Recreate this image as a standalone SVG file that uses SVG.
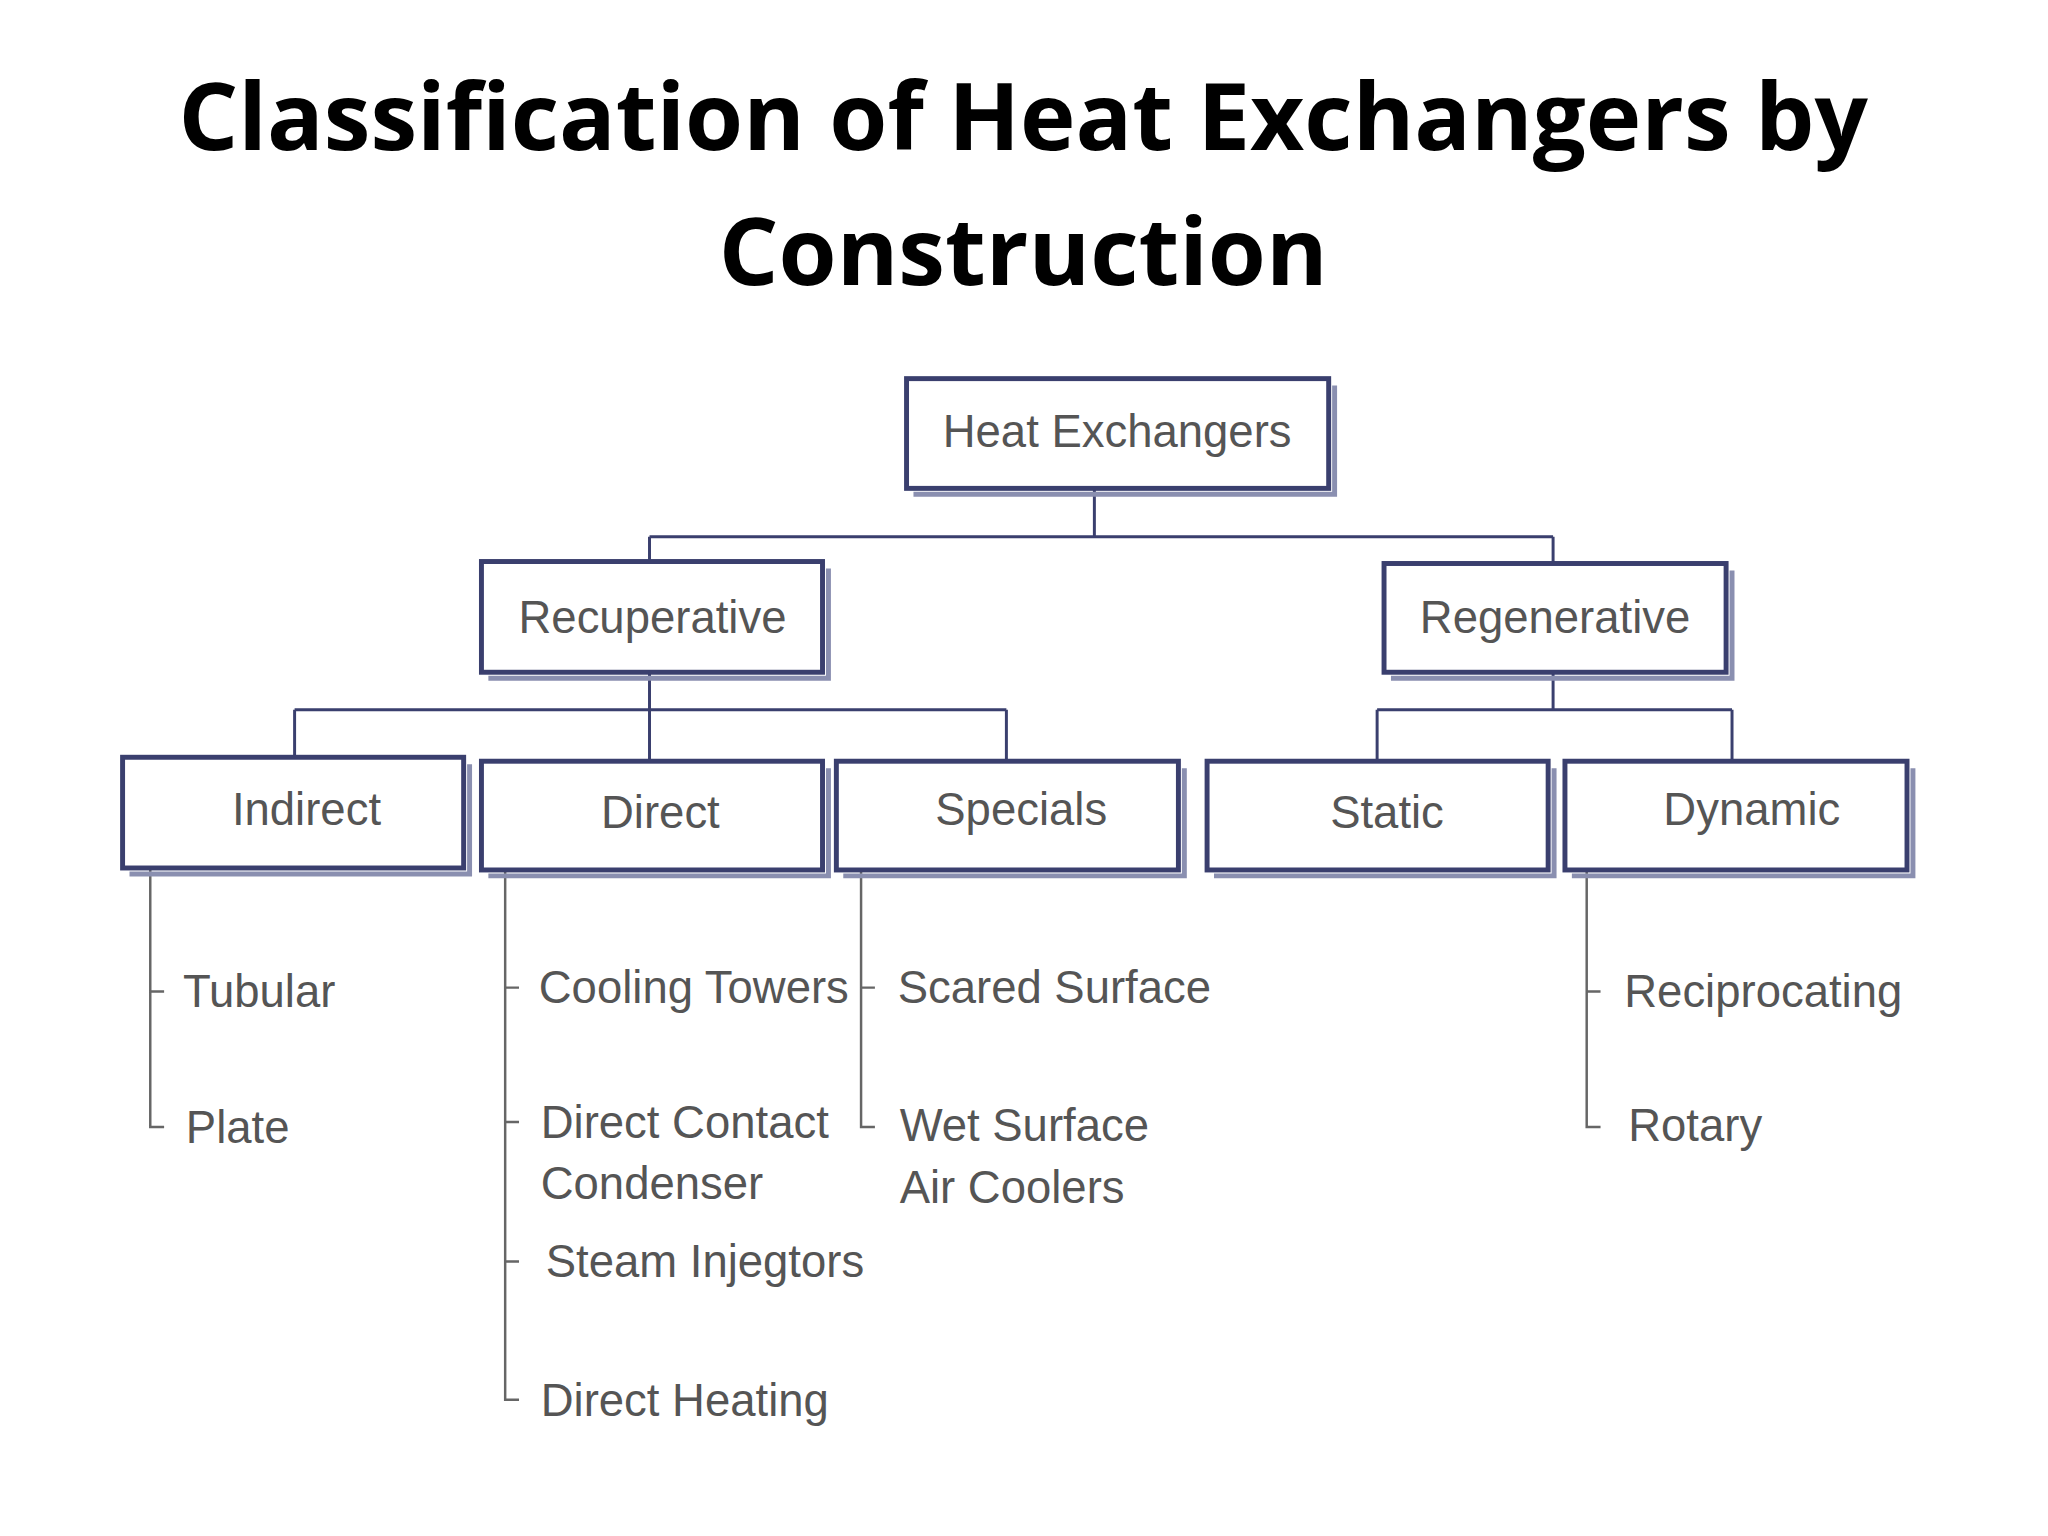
<svg xmlns="http://www.w3.org/2000/svg" width="2048" height="1536" viewBox="0 0 2048 1536">
<style>
.t{font-family:"Open Sans","Liberation Sans",sans-serif;font-weight:bold;font-size:95px;fill:#000;text-anchor:middle}
.b{fill:#fff;stroke:#3a3f6e;stroke-width:5}
.s{fill:none;stroke:#8a8fb0;stroke-width:5}
.n{font-family:"Liberation Sans",sans-serif;font-size:46px;fill:#555;text-anchor:middle}
.i{font-family:"Liberation Sans",sans-serif;font-size:46px;fill:#555}
.c{fill:none;stroke:#3a3f6e;stroke-width:3}
.l{fill:none;stroke:#666;stroke-width:2.5}
</style>
<rect width="2048" height="1536" fill="#fff"/>
<g transform="scale(0.9886)">
<text class="t" x="1035" y="152">Classification of Heat Exchangers by</text>
<text class="t" x="1035" y="288">Construction</text>
<g id="connectors">
<path class="c" d="M1107 494V543M657 543H1571M657 543V568M1571 543V570"/>
<path class="c" d="M657 680V718M298 718H1018M298 718V766M657 718V770M1018 718V770"/>
<path class="c" d="M1571 680V718M1393 718H1752M1393 718V770M1752 718V770"/>
<path class="l" d="M152 878V1140H166M152 1003H166"/>
<path class="l" d="M511 880V1416H525M511 999H525M511 1135H525M511 1276H525"/>
<path class="l" d="M871 880V1140H885M871 999H885"/>
<path class="l" d="M1605 880V1140H1619M1605 1003H1619"/>
</g>
<g id="he"><path class="s" d="M924 500H1350V390"/><rect class="b" x="917" y="383" width="427" height="111"/><text class="n" x="1130" y="452">Heat Exchangers</text></g>
<g id="recup"><path class="s" d="M494 686H838V575"/><rect class="b" x="487" y="568" width="345" height="112"/><text class="n" x="660" y="640">Recuperative</text></g>
<g id="regen"><path class="s" d="M1407 686H1752V577"/><rect class="b" x="1400" y="570" width="346" height="110"/><text class="n" x="1573" y="640">Regenerative</text></g>
<g id="indirect"><path class="s" d="M131 884H475V773"/><rect class="b" x="124" y="766" width="345" height="112"/><text class="n" x="310" y="835">Indirect</text></g>
<g id="direct"><path class="s" d="M494 886H838V777"/><rect class="b" x="487" y="770" width="345" height="110"/><text class="n" x="668" y="838">Direct</text></g>
<g id="specials"><path class="s" d="M853 886H1198V777"/><rect class="b" x="846" y="770" width="346" height="110"/><text class="n" x="1033" y="835">Specials</text></g>
<g id="static"><path class="s" d="M1228 886H1572V777"/><rect class="b" x="1221" y="770" width="345" height="110"/><text class="n" x="1403" y="838">Static</text></g>
<g id="dynamic"><path class="s" d="M1590 886H1935V777"/><rect class="b" x="1583" y="770" width="346" height="110"/><text class="n" x="1772" y="835">Dynamic</text></g>
<g id="items">
<text class="i" x="185" y="1019">Tubular</text>
<text class="i" x="188" y="1156" font-size="52">Plate</text>
<text class="i" x="545" y="1015">Cooling Towers</text>
<text class="i" x="547" y="1151">Direct Contact</text>
<text class="i" x="547" y="1213">Condenser</text>
<text class="i" x="552" y="1292">Steam Injegtors</text>
<text class="i" x="547" y="1432">Direct Heating</text>
<text class="i" x="908" y="1015">Scared Surface</text>
<text class="i" x="910" y="1154">Wet Surface</text>
<text class="i" x="910" y="1217">Air Coolers</text>
<text class="i" x="1643" y="1019">Reciprocating</text>
<text class="i" x="1647" y="1154">Rotary</text>
</g>
</g>
</svg>
